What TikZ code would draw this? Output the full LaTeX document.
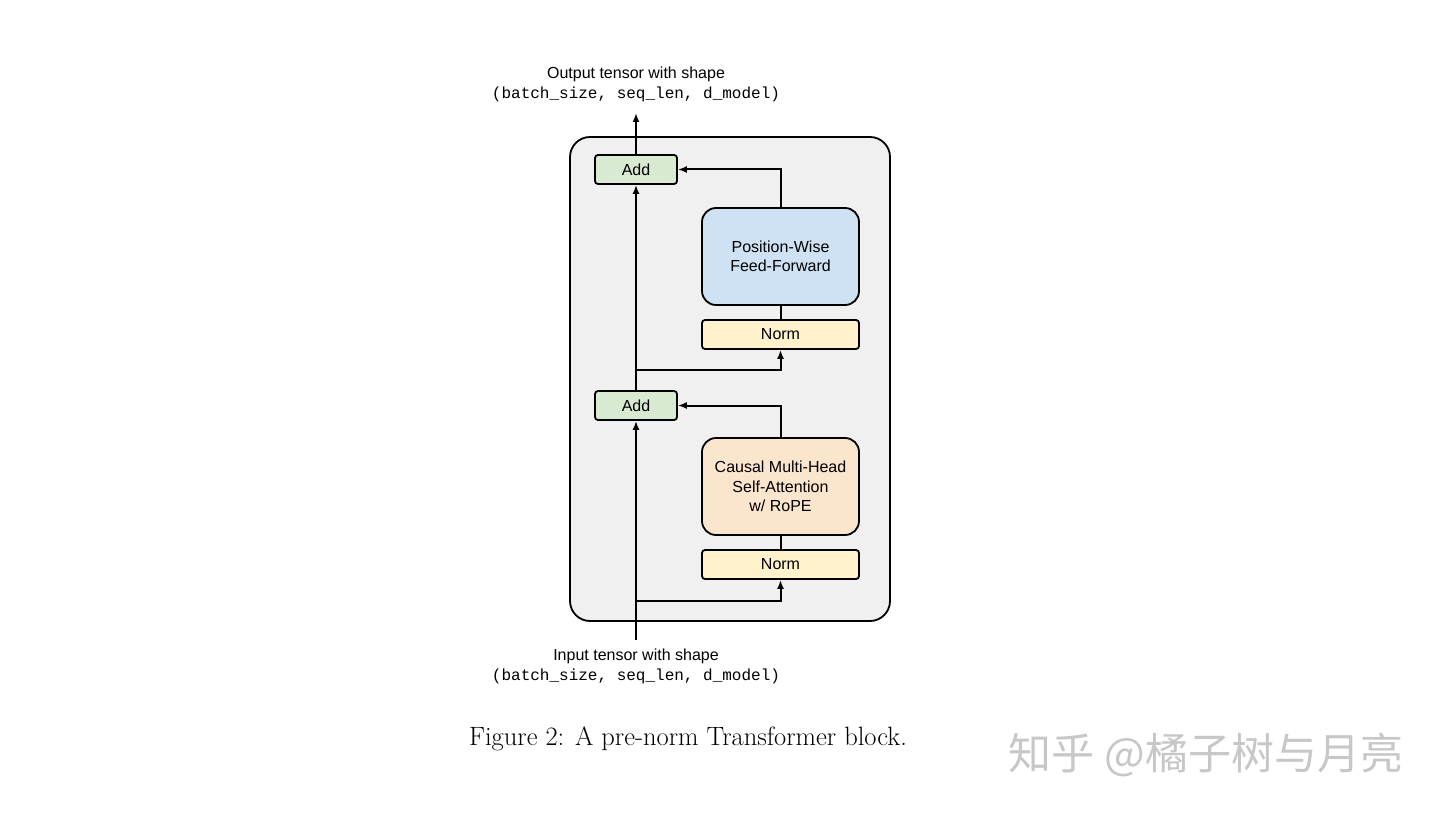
\documentclass[tikz,border=0pt]{standalone}
\usepackage{fontspec}
\setmainfont{Liberation Sans}
\newfontfamily\lmr{Latin Modern Roman}
\newfontfamily\mono{Liberation Mono}
\newfontfamily\cjk{Noto Sans CJK SC}
\usetikzlibrary{arrows.meta}
\definecolor{bg}{HTML}{F0F0F0}
\definecolor{gr}{HTML}{D9EAD3}
\definecolor{bl}{HTML}{CFE2F3}
\definecolor{ye}{HTML}{FFF2CC}
\definecolor{orr}{HTML}{FCE5CD}
\begin{document}
\begin{tikzpicture}[x=1pt,y=-1pt,
  box/.style={draw=black,line width=1.8pt,rounded corners=3pt,inner sep=0pt,font=\fontsize{16}{18}\selectfont},
  big/.style={box,rounded corners=14pt,align=center,font=\fontsize{16}{19.5}\selectfont},
  ln/.style={line width=2pt},
  ar/.style={ln,-{Latex[length=9pt,width=7pt]}},
  lbl/.style={font=\fontsize{16}{20}\selectfont,align=center}]
\useasboundingbox (0,0) rectangle (1440,813);
\node[draw=black,line width=1.8pt,rounded corners=20pt,fill=bg,minimum width=320pt,minimum height=484pt,inner sep=0pt] (outer) at (730,379) {};
\node[box,fill=gr,minimum width=82pt,minimum height=29pt] (add2) at (636,169.5) {Add};
\node[big,fill=bl,minimum width=157pt,minimum height=97pt] (ffn) at (780.5,256.5) {Position-Wise\\Feed-Forward};
\node[box,fill=ye,minimum width=157pt,minimum height=29pt] (norm2) at (780.5,334.5) {Norm};
\node[box,fill=gr,minimum width=82pt,minimum height=29pt] (add1) at (636,405.5) {Add};
\node[big,fill=orr,minimum width=157pt,minimum height=97pt] (att) at (780.5,486.5) {Causal Multi-Head\\Self-Attention\\w/ RoPE};
\node[box,fill=ye,minimum width=157pt,minimum height=29pt] (norm1) at (780.5,564.5) {Norm};
\coordinate (in) at (636,640);
\coordinate (out) at (636,113);
\coordinate (b1) at (636,601);
\coordinate (b2) at (636,370);
\draw[ar] (in) -- (add1.south);
\draw[ar] (b1) -| (norm1.south);
\draw[ln] (norm1.north) -- (att.south);
\draw[ar] (att.north) |- (add1.east);
\draw[ar] (add1.north) -- (add2.south);
\draw[ar] (b2) -| (norm2.south);
\draw[ln] (norm2.north) -- (ffn.south);
\draw[ar] (ffn.north) |- (add2.east);
\draw[ar] (add2.north) -- (out);
\node[lbl] (ot) at (636,84) {Output tensor with shape\\{\mono\fontsize{16}{20}\selectfont (batch\_size, seq\_len, d\_model)}};
\node[lbl] (it) at (636,666) {Input tensor with shape\\{\mono\fontsize{16}{20}\selectfont (batch\_size, seq\_len, d\_model)}};
\node[font=\lmr\fontsize{26.5}{30}\selectfont] (cap) at (688,739) {Figure 2: A pre-norm Transformer block.};
\node[font=\cjk\fontsize{43}{46}\selectfont,text=black!22] (wm) at (1206,755) {知乎 @橘子树与月亮};
\end{tikzpicture}
\end{document}
